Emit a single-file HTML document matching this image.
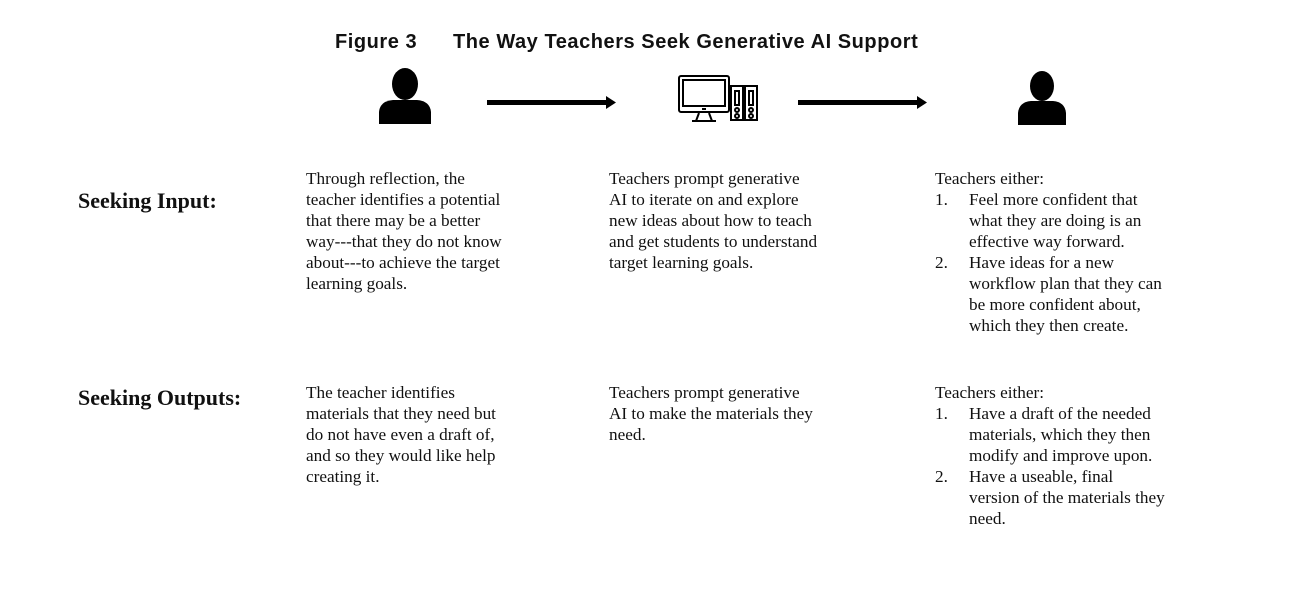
<!DOCTYPE html>
<html><head><style>
body{margin:0;width:1290px;height:599px;background:#fff;position:relative;overflow:hidden;font-family:"Liberation Serif",serif;color:#111}
.t{position:absolute;font-size:17.2px;line-height:21px;white-space:nowrap}
.l{position:absolute;font-weight:bold;font-size:22px}
.n{display:inline-block;width:34px}
.i{padding-left:34px}
.h{position:absolute;top:31px;font-family:'Liberation Sans',sans-serif;font-weight:bold;font-size:20px;letter-spacing:0.55px}
</style></head><body>
<div class="h" style="left:335px">Figure 3</div>
<div class="h" style="left:453px">The Way Teachers Seek Generative AI Support</div>
<svg width="1290" height="160" style="position:absolute;left:0;top:0">
<g fill="#000">
<ellipse cx="405" cy="84" rx="13" ry="16"/>
<path d="M379 124 L379 112 Q380 101 393 100 L417 100 Q430 101 431 112 L431 124 Z"/>
<ellipse cx="1042" cy="86" rx="12" ry="15"/>
<path d="M1018 125 L1018 113 Q1019 102 1031 101 L1053 101 Q1065 102 1066 113 L1066 125 Z"/>
<rect x="487" y="100" width="120" height="5"/><path d="M606 96 L616 102.5 L606 109 Z"/>
<rect x="798" y="100" width="120" height="5"/><path d="M917 96 L927 102.5 L917 109 Z"/>
</g>
<g fill="none" stroke="#000" stroke-width="2">
<rect x="679" y="76" width="50" height="36" rx="2"/>
<rect x="683" y="80" width="42" height="26"/>
<path d="M699 113 L696 121 M709 113 L712 121 M692 121 L716 121"/>
<rect x="731" y="86" width="12" height="34"/>
<rect x="745" y="86" width="12" height="34"/>
<rect x="735" y="91" width="4" height="14"/><rect x="749" y="91" width="4" height="14"/>
<circle cx="737" cy="110" r="2"/><circle cx="737" cy="116" r="2"/>
<circle cx="751" cy="110" r="2"/><circle cx="751" cy="116" r="2"/>
</g>
<rect x="702" y="108" width="4" height="2" fill="#000"/>
</svg>
<div class="l" style="left:78px;top:188px">Seeking Input:</div>
<div class="l" style="left:78px;top:385px">Seeking Outputs:</div>
<div class="t" style="left:306px;top:168px">Through reflection, the<br>teacher identifies a potential<br>that there may be a better<br>way---that they do not know<br>about---to achieve the target<br>learning goals.</div>
<div class="t" style="left:609px;top:168px">Teachers prompt generative<br>AI to iterate on and explore<br>new ideas about how to teach<br>and get students to understand<br>target learning goals.</div>
<div class="t" style="left:935px;top:168px">Teachers either:<br><span class="n">1.</span>Feel more confident that<br><span class="i">what they are doing is an</span><br><span class="i">effective way forward.</span><br><span class="n">2.</span>Have ideas for a new<br><span class="i">workflow plan that they can</span><br><span class="i">be more confident about,</span><br><span class="i">which they then create.</span></div>
<div class="t" style="left:306px;top:382px">The teacher identifies<br>materials that they need but<br>do not have even a draft of,<br>and so they would like help<br>creating it.</div>
<div class="t" style="left:609px;top:382px">Teachers prompt generative<br>AI to make the materials they<br>need.</div>
<div class="t" style="left:935px;top:382px">Teachers either:<br><span class="n">1.</span>Have a draft of the needed<br><span class="i">materials, which they then</span><br><span class="i">modify and improve upon.</span><br><span class="n">2.</span>Have a useable, final<br><span class="i">version of the materials they</span><br><span class="i">need.</span></div>
</body></html>
